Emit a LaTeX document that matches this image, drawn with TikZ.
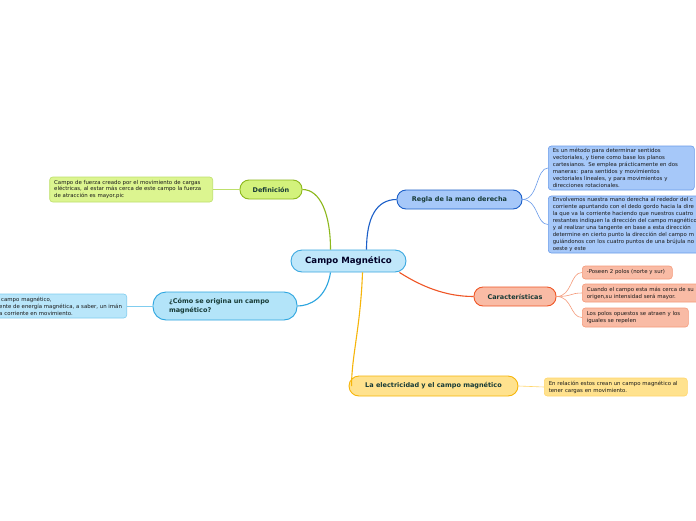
\documentclass[tikz,border=0pt]{standalone}
\usepackage{fontspec}
\setmainfont{DejaVu Sans}
\usepackage{xcolor}
\usetikzlibrary{positioning}
\definecolor{topictext}{HTML}{163A36}
\definecolor{centralfill}{HTML}{C0E7FA}
\definecolor{centraldraw}{HTML}{3AA8E0}
\definecolor{defline}{HTML}{8DB81C}
\definecolor{deffill}{HTML}{D3F27C}
\definecolor{defnote}{HTML}{DCF590}
\definecolor{defnotedraw}{HTML}{BEE06C}
\definecolor{origline}{HTML}{2CA5DF}
\definecolor{origfill}{HTML}{B3E4F9}
\definecolor{orignote}{HTML}{B9E6FA}
\definecolor{orignotedraw}{HTML}{80CDEF}
\definecolor{reglaline}{HTML}{1B5FC8}
\definecolor{reglafill}{HTML}{A6C8F9}
\definecolor{reglanotedraw}{HTML}{6A9BEA}
\definecolor{caracline}{HTML}{EF5626}
\definecolor{caracfill}{HTML}{F9BBA5}
\definecolor{caracnotedraw}{HTML}{F59A7A}
\definecolor{elecline}{HTML}{F6B50A}
\definecolor{elecfill}{HTML}{FFE28E}
\definecolor{elecnotedraw}{HTML}{FFD66A}

\tikzset{
  topic/.style={draw, line width=0.9pt, rounded corners=9pt, inner sep=0pt,
                font=\fontsize{6.5}{8.2}\selectfont\bfseries, text=topictext},
  note/.style={draw, line width=0.6pt, rounded corners=3pt, inner xsep=4.5pt, inner ysep=1.2pt,
               align=left, font=\fontsize{5.4}{6.9}\selectfont, text=black!90},
  branch/.style={line width=1.1pt},
  twig/.style={line width=0.6pt}
}

\begin{document}
\begin{tikzpicture}[x=1pt, y=-1pt]
  \useasboundingbox (0,0) rectangle (696,520);
  \clip (0,0) rectangle (696,520);
  \fill[white] (0,0) rectangle (696,520);

  % central topic
  \node[topic, fill=centralfill, draw=centraldraw, rounded corners=11pt,
        minimum width=115pt, minimum height=22pt, font=\fontsize{8.6}{10}\selectfont\bfseries,
        text=black!85!blue] (central) at (348.5,261) {Campo Magnético};

  % main topics
  \node[topic, fill=deffill, draw=defline, minimum width=62pt, minimum height=19pt]
    (defin) at (271,189.5) {Definición};
  \node[topic, fill=origfill, draw=origline, rounded corners=13pt, minimum width=144pt,
        minimum height=28pt, text width=128pt, align=left, inner xsep=0pt]
    (origen) at (225,306) {\hspace*{8pt}¿Cómo se origina un campo\\\hspace*{8pt}magnético?};
  \node[topic, fill=reglafill, draw=reglaline, minimum width=125pt, minimum height=19pt]
    (regla) at (459.5,199.5) {Regla de la mano derecha};
  \node[topic, fill=caracfill, draw=caracline, minimum width=82pt, minimum height=19pt]
    (carac) at (515,296.5) {Características};
  \node[topic, fill=elecfill, draw=elecline, rounded corners=10pt, minimum width=169pt,
        minimum height=20pt] (elec) at (433.5,386) {La electricidad y el campo magnético};

  % notes
  \node[note, fill=defnote, draw=defnotedraw, anchor=east, text width=154pt, minimum height=25pt]
    (defnote) at (213,189.5) {Campo de fuerza creado por el movimiento de cargas\\
    eléctricas, al estar más cerca de este campo la fuerza\\de atracción es mayor.pic};
  \node[note, fill=orignote, draw=orignotedraw, anchor=east, text width=123pt, minimum height=24pt]
    (orignote) at (127,306) {\hspace*{2pt}campo magnético,\\
    ente de energía magnética, a saber, un imán\\a corriente en movimiento.};
  \node[note, fill=reglafill, draw=reglanotedraw, anchor=west, text width=137pt, minimum height=44pt]
    (reglaa) at (548,168) {Es un método para determinar sentidos\\
    vectoriales, y tiene como base los planos\\cartesianos. Se emplea prácticamente en dos\\
    maneras: para sentidos y movimientos\\vectoriales lineales, y para movimientos y\\
    direcciones rotacionales.};
  \node[note, fill=reglafill, draw=reglanotedraw, anchor=west, text width=180pt, minimum height=57pt]
    (reglab) at (548,224.5) {Envolvemos nuestra mano derecha al rededor del c\\
    corriente apuntando con el dedo gordo hacia la dire\\la que va la corriente haciendo que nuestros cuatro\\
    restantes indiquen la dirección del campo magnético\\y al realizar una tangente en base a esta dirección\\
    determine en cierto punto la dirección del campo m\\guiándonos con los cuatro puntos de una brújula no\\
    oeste y este};
  \node[note, fill=caracfill, draw=caracnotedraw, anchor=west, text width=81pt, minimum height=13pt]
    (caraca) at (582,272.5) {-Poseen 2 polos (norte y sur)};
  \node[note, fill=caracfill, draw=caracnotedraw, anchor=west, text width=125pt, minimum height=18pt]
    (caracb) at (582,293) {Cuando el campo esta más cerca de su\\origen,su intensidad será mayor.};
  \node[note, fill=caracfill, draw=caracnotedraw, anchor=west, text width=97pt, minimum height=19pt]
    (caracc) at (582,317.5) {Los polos opuestos se atraen y los\\iguales se repelen};
  \node[note, fill=elecfill, draw=elecnotedraw, anchor=west, text width=134pt, minimum height=18pt]
    (elecnote) at (544,387) {En relación estos crean un campo magnético al\\tener cargas en movimiento.};

  % branches
  \draw[branch, defline] ([xshift=-18pt]central.north) .. controls +(0,-35) and +(18,0) .. (defin.east);
  \draw[branch, reglaline] ([xshift=18pt]central.north) .. controls +(0,-32) and +(-20,0) .. (regla.west);
  \draw[branch, caracline] ([xshift=-7pt]central.south east) .. controls +(22,14) and +(-28,0) .. (carac.west);
  \draw[branch, origline] ([xshift=-18pt]central.south) .. controls +(-4,26) and +(12,0) .. (origen.east);
  \draw[branch, elecline] ([xshift=14pt]central.south) .. controls +(-2,55) and +(0,-30) .. ([xshift=3pt]elec.west);

  % twigs
  \draw[twig, defnotedraw] (defin.west) -- (defnote.east);
  \draw[twig, orignotedraw] (origen.west) -- (orignote.east);
  \draw[twig, reglanotedraw] (regla.east) .. controls +(16,0) and +(-12,0) .. (reglaa.west);
  \draw[twig, reglanotedraw] (regla.east) .. controls +(16,0) and +(-12,0) .. (reglab.west);
  \draw[twig, caracnotedraw] (carac.east) .. controls +(16,0) and +(-12,0) .. (caraca.west);
  \draw[twig, caracnotedraw] (carac.east) .. controls +(16,0) and +(-12,0) .. (caracb.west);
  \draw[twig, caracnotedraw] (carac.east) .. controls +(16,0) and +(-12,0) .. (caracc.west);
  \draw[twig, elecnotedraw] (elec.east) -- (elecnote.west);
\end{tikzpicture}
\end{document}
